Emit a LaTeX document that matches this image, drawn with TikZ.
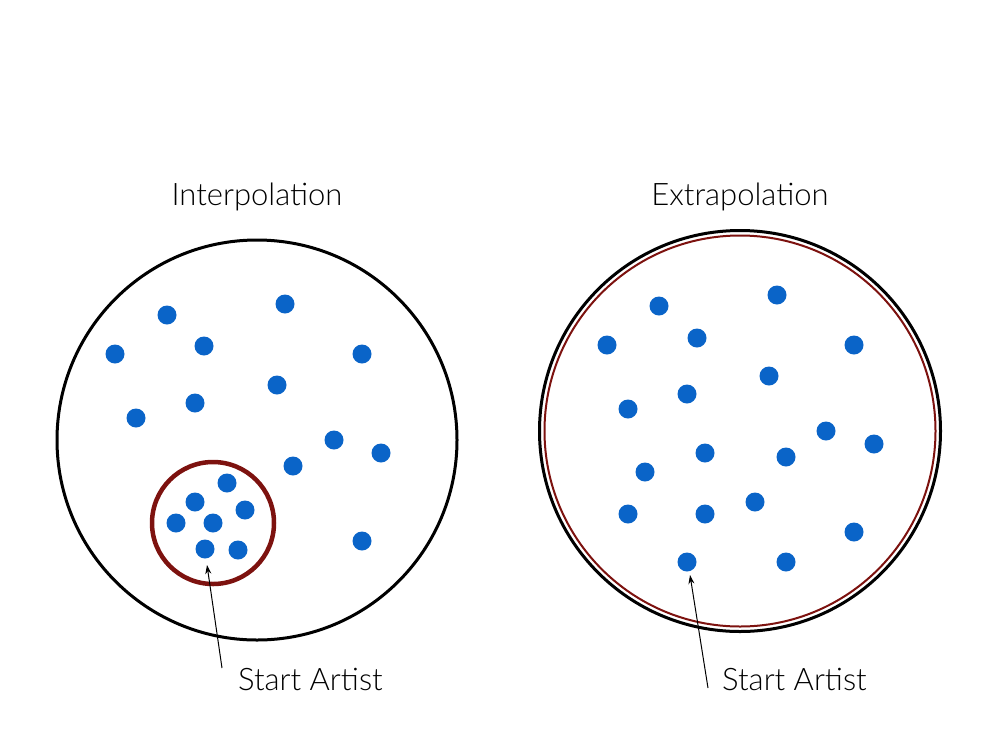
\documentclass[tikz,border=0pt]{standalone}
\usepackage{fontspec}
\usetikzlibrary{arrows.meta}
\setmainfont{Lato Light}
\definecolor{dotblue}{RGB}{10,100,200}
\definecolor{darkred}{RGB}{125,18,15}
\begin{document}
\begin{tikzpicture}[x=1pt,y=-1pt,
  dot/.style={fill=dotblue,draw=none},
  lbl/.style={font=\fontsize{31}{36}\selectfont,inner sep=0pt},
  arr/.style={-{Stealth[length=9pt,width=6pt]},line width=1pt}]
\useasboundingbox (0,0) rectangle (1000,750);
\draw[line width=3pt] (257,440) circle (200);
\draw[line width=3pt] (740,431) circle (200.5);
\draw[line width=2pt,darkred] (740,431) circle (195.5);
\draw[line width=4.5pt,darkred] (213,523) circle (61);
\foreach \p in {(167,315),(285,304),(115,354),(204,346),(362,354),(277,385),(195,403),(136,418),(334,440),(381,453),(293,466),(362,541),(227,483),(195,502),(176,523),(213,523),(245,510),(205,549),(238,550),
(659,306),(777,295),(607,345),(697,338),(854,345),(769,376),(687,394),(628,409),(826,431),(874,444),(705,453),(786,457),(645,472),(755,502),(628,514),(705,514),(854,532),(687,562),(786,562)}
  \fill[dotblue] \p circle (9.5);
\node[lbl] (t1) at (257,197) {Interpolation};
\node[lbl] (t2) at (740,197) {Extrapolation};
\node[lbl,anchor=west] (s1) at (238,679) {Start Artist};
\node[lbl,anchor=west] (s2) at (722,679) {Start Artist};
\coordinate (a1s) at (222,668); \coordinate (a1e) at (207,565);
\coordinate (a2s) at (708,688); \coordinate (a2e) at (690,575);
\draw[arr] (a1s) -- (a1e);
\draw[arr] (a2s) -- (a2e);
\end{tikzpicture}
\end{document}
